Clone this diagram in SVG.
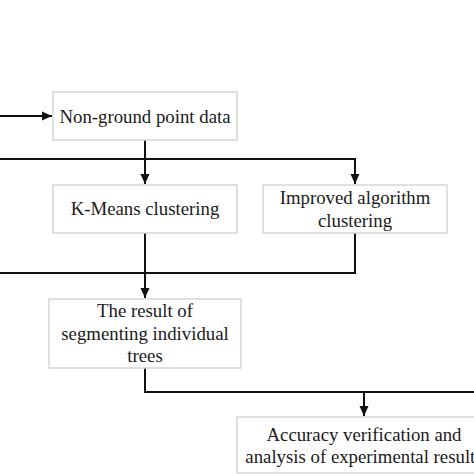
<svg xmlns="http://www.w3.org/2000/svg" width="474" height="474" viewBox="0 0 474 474">
<style>
.box{fill:#ffffff;stroke:#d6d6d6;stroke-width:1.5}
.t{font-family:"Liberation Serif","Times New Roman",serif;font-size:18.8px;fill:#1a1a1a;text-anchor:middle}
.c{fill:none;stroke:#111;stroke-width:2}
</style>
<defs>
<marker id="ah" viewBox="0 0 10 10" refX="10" refY="5" markerWidth="10" markerHeight="10" markerUnits="userSpaceOnUse" orient="auto">
<path d="M0,0.5 L10,5 L0,9.5 Z" fill="#111"/>
</marker>
</defs>
<rect width="474" height="474" fill="#ffffff"/>
<g id="connectors">
<path class="c" d="M0,116 H52" marker-end="url(#ah)"/>
<path class="c" d="M145,140 V184" marker-end="url(#ah)"/>
<path class="c" d="M0,159 H355 V184" marker-end="url(#ah)"/>
<path class="c" d="M145,233 V298" marker-end="url(#ah)"/>
<path class="c" d="M355,233 V273 H0"/>
<path class="c" d="M145,368 V392 H474"/>
<path class="c" d="M364,392 V416" marker-end="url(#ah)"/>
</g>
<g id="node-nonground">
<rect class="box" x="53" y="92" width="184" height="48"/>
<text class="t" x="145" y="122.5">Non-ground point data</text>
</g>
<g id="node-kmeans">
<rect class="box" x="53" y="185" width="184" height="48"/>
<text class="t" x="145" y="215">K-Means clustering</text>
</g>
<g id="node-improved">
<rect class="box" x="263" y="185" width="184" height="48"/>
<text class="t" x="355" y="204">Improved algorithm</text>
<text class="t" x="355" y="226.5">clustering</text>
</g>
<g id="node-result">
<rect class="box" x="49" y="299" width="192" height="69"/>
<text class="t" x="145" y="317">The result of</text>
<text class="t" x="145" y="339.5">segmenting individual</text>
<text class="t" x="145" y="362">trees</text>
</g>
<g id="node-accuracy">
<rect class="box" x="237" y="417" width="260" height="56"/>
<text class="t" x="364" y="441">Accuracy verification and</text>
<text class="t" x="364" y="462.5">analysis of experimental results</text>
</g>
</svg>
